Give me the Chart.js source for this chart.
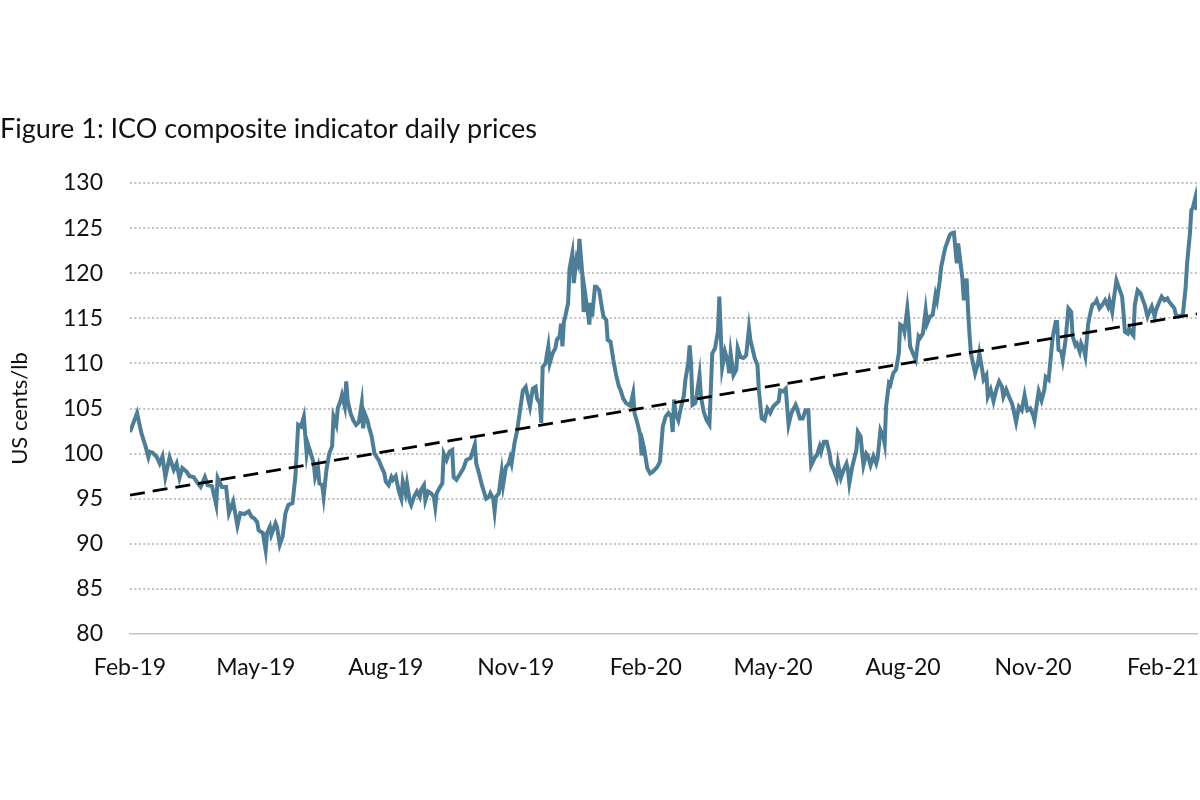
<!DOCTYPE html>
<html lang="en">
<head>
<meta charset="UTF-8">
<title>ICO composite indicator daily prices</title>
<script src="https://cdn.jsdelivr.net/npm/chart.js"></script>
<style>
  html, body { margin: 0; padding: 0; background: #fff; }
  canvas { display: block; }
</style>
</head>
<body>
<canvas id="icoChart" width="1200" height="800"></canvas>
<script>
// days since 1 Feb 2019 and the ICO composite price (US cents/lb)
var days = [
  0, 5, 8, 11, 13, 14, 16, 19, 21, 23,
  25, 28, 31, 33, 35, 37, 40, 42, 45, 48,
  50, 53, 55, 58, 61, 62, 65, 68, 70, 73,
  76, 78, 81, 84, 86, 88, 90, 91, 94, 96,
  97, 99, 100, 103, 104, 106, 108, 110, 112, 115,
  117, 119, 121, 123, 125, 126, 128, 130, 131, 133,
  134, 136, 137, 139, 141, 143, 144, 146, 147, 149,
  150, 152, 153, 154, 156, 158, 160, 162, 164, 165,
  166, 168, 169, 171, 173, 175, 176, 178, 180, 181,
  183, 185, 186, 188, 190, 192, 193, 195, 196, 198,
  199, 201, 203, 205, 206, 208, 209, 211, 213, 215,
  216, 217, 219, 221, 222, 224, 226, 228, 229, 231,
  233, 236, 238, 241, 242, 244, 245, 247, 249, 250,
  252, 254, 255, 257, 258, 259, 261, 263, 264, 266,
  268, 269, 270, 272, 274, 276, 278, 280, 282, 283,
  285, 287, 288, 290, 291, 292, 294, 296, 297, 299,
  301, 302, 304, 305, 306, 307, 308, 310, 311, 313,
  314, 316, 317, 318, 320, 321, 322, 324, 325, 326,
  327, 329, 330, 332, 334, 335, 337, 338, 340, 342,
  344, 346, 347, 349, 351, 354, 356, 357, 359, 361,
  362, 363, 364, 366, 368, 370, 373, 375, 377, 379,
  381, 383, 384, 385, 386, 388, 390, 392, 393, 395,
  396, 397, 398, 400, 401, 403, 404, 406, 408, 410,
  412, 414, 416, 417, 419, 421, 423, 424, 425, 427,
  429, 430, 432, 434, 436, 438, 439, 441, 442, 444,
  445, 447, 449, 451, 453, 455, 459, 460, 462, 464,
  466, 468, 471, 472, 474, 476, 478, 480, 481, 482,
  485, 486, 488, 489, 491, 493, 495, 496, 498, 500,
  501, 503, 505, 507, 508, 509, 511, 514, 515, 517,
  518, 519, 521, 522, 524, 526, 528, 529, 531, 533,
  534, 535, 537, 538, 540, 542, 544, 545, 547, 548,
  550, 551, 552, 554, 556, 558, 559, 561, 563, 564,
  566, 568, 570, 571, 573, 574, 576, 577, 578, 580,
  581, 583, 585, 586, 588, 589, 590, 592, 593, 594,
  595, 596, 598, 600, 601, 603, 604, 606, 607, 609,
  611, 613, 615, 617, 618, 620, 622, 624, 625, 627,
  629, 631, 633, 635, 637, 639, 640, 642, 643, 645,
  647, 648, 650, 651, 652, 653, 655, 656, 657, 659,
  660, 662, 664, 666, 667, 669, 670, 672, 673, 675,
  676, 678, 680, 681, 683, 684, 686, 688, 690, 692,
  693, 695, 696, 698, 700, 702, 703, 704, 706, 707,
  709, 710, 711, 713, 715, 717, 718, 720, 721, 723,
  725, 726, 728, 730, 732, 734, 735, 737, 739, 740,
  742, 745, 747, 748, 750, 751, 752, 754, 755
];
var prices = [
  102.4, 104.5, 102.3, 100.8, 99.6, 100.2, 100.1, 99.6, 98.9, 99.7,
  97.4, 99.6, 98.2, 98.9, 97.3, 98.4, 98.0, 97.5, 97.4, 96.7,
  96.3, 97.4, 96.5, 96.4, 94.3, 97.3, 96.3, 96.3, 93.4, 94.7,
  92.0, 93.4, 93.3, 93.6, 93.0, 92.8, 92.4, 91.5, 91.2, 89.3,
  91.2, 91.9, 91.0, 92.3, 91.9, 89.9, 90.8, 93.4, 94.3, 94.5,
  97.4, 103.2, 103.0, 104.1, 100.0, 101.0, 100.0, 98.9, 97.4, 98.5,
  96.7, 96.5, 95.2, 98.2, 100.0, 100.8, 104.1, 103.2, 105.0, 105.9,
  106.5, 105.2, 108.0, 105.9, 104.5, 103.7, 103.2, 103.5, 105.6, 102.8,
  104.5, 103.7, 103.0, 101.9, 100.0, 99.5, 99.3, 98.5, 97.8, 96.9,
  96.5, 97.4, 97.1, 97.5, 96.0, 95.0, 96.9, 95.6, 96.7, 94.7,
  94.3, 95.2, 95.8, 95.2, 96.0, 96.5, 94.8, 95.8, 95.6, 95.2,
  94.1, 95.6, 96.2, 96.7, 100.0, 99.3, 100.2, 100.4, 97.4, 97.1,
  97.6, 98.4, 99.3, 99.5, 100.0, 101.0, 98.9, 97.8, 96.5, 96.0,
  95.0, 95.2, 95.6, 95.0, 93.6, 95.2, 95.6, 98.0, 96.5, 98.5,
  98.9, 99.5, 98.9, 101.1, 102.6, 104.8, 107.0, 107.4, 105.9, 105.2,
  107.2, 107.4, 106.1, 105.6, 103.4, 109.6, 110.0, 111.9, 110.0, 111.1,
  111.7, 112.6, 113.0, 114.4, 111.9, 114.6, 115.2, 116.7, 120.5, 122.2,
  118.9, 121.6, 121.1, 123.8, 120.0, 115.7, 117.8, 115.6, 114.3, 116.7,
  115.2, 118.5, 118.5, 118.1, 116.1, 115.2, 114.8, 112.6, 112.4, 110.4,
  108.7, 107.4, 107.1, 106.1, 105.6, 105.3, 106.7, 104.5, 103.4, 102.1,
  99.8, 101.1, 100.4, 98.4, 97.8, 98.0, 98.5, 99.1, 103.0, 104.1,
  104.5, 104.1, 102.4, 106.0, 104.5, 103.7, 105.2, 106.5, 108.2, 110.0,
  112.0, 110.0, 105.4, 105.6, 106.5, 108.7, 106.3, 104.6, 103.7, 103.2,
  111.1, 111.7, 113.5, 117.4, 109.5, 111.3, 110.2, 108.9, 111.1, 108.7,
  109.3, 111.7, 110.7, 110.6, 110.9, 113.9, 112.6, 111.3, 110.6, 109.8,
  107.0, 103.9, 103.7, 105.0, 104.5, 105.2, 105.8, 107.0, 106.9, 107.2,
  103.2, 104.5, 105.4, 105.0, 103.9, 103.9, 104.8, 104.8, 101.5, 98.7,
  99.7, 99.8, 100.8, 100.2, 101.3, 101.3, 100.0, 98.9, 98.2, 97.3,
  98.9, 97.3, 98.2, 98.9, 98.2, 96.7, 98.5, 100.4, 102.4, 101.9,
  100.2, 98.7, 100.0, 99.8, 98.7, 99.7, 98.9, 99.5, 102.6, 101.9,
  101.1, 105.2, 107.8, 107.6, 108.9, 109.3, 111.1, 114.3, 114.1, 113.5,
  116.1, 114.4, 111.9, 111.1, 110.4, 113.0, 112.8, 113.3, 115.9, 114.4,
  115.2, 115.4, 117.6, 117.0, 119.2, 120.7, 122.2, 122.9, 123.3, 124.2,
  124.4, 124.5, 121.1, 123.3, 120.7, 119.4, 117.0, 119.4, 115.9, 113.3,
  111.1, 110.4, 108.9, 110.0, 111.1, 109.3, 108.2, 108.7, 106.3, 107.1,
  105.8, 107.1, 108.0, 107.4, 106.3, 107.1, 106.3, 105.6, 105.0, 103.5,
  105.2, 104.8, 106.5, 104.8, 105.0, 104.3, 103.7, 105.9, 106.9, 105.9,
  107.1, 108.5, 108.2, 109.8, 111.5, 113.0, 114.6, 114.6, 111.5, 111.3,
  110.4, 112.6, 116.1, 115.7, 113.0, 112.0, 112.2, 111.3, 112.2, 111.5,
  110.8, 114.4, 115.9, 116.5, 116.7, 117.0, 116.1, 116.5, 117.0, 116.3,
  117.0, 115.7, 117.0, 119.2, 118.3, 117.4, 115.6, 113.5, 113.3, 113.9,
  113.3, 113.1, 116.5, 118.1, 117.8, 116.9, 116.5, 115.2, 115.6, 116.3,
  115.2, 115.9, 116.7, 117.4, 117.0, 117.2, 116.9, 116.5, 116.1, 115.4,
  115.2, 115.4, 118.5, 121.1, 124.4, 127.0, 127.2, 128.5, 127.0
];

// linear trend drawn dashed across the whole period
var trendDays = [0, 755];
var trendValues = [95.4, 115.5];

// quarterly axis labels
var startDate = '2019-02-01';
var tickDates = ['2019-02-01', '2019-05-01', '2019-08-01', '2019-11-01', '2020-02-01',
                 '2020-05-01', '2020-08-01', '2020-11-01', '2021-02-01'];
var tickLabels = ['Feb-19', 'May-19', 'Aug-19', 'Nov-19', 'Feb-20',
                  'May-20', 'Aug-20', 'Nov-20', 'Feb-21'];

var dayOf = function (iso) {
  return Math.round((Date.parse(iso) - Date.parse(startDate)) / 86400000);
};
var tickDays = tickDates.map(dayOf);

var FONT = 'Lato, "Noto Sans", sans-serif';

var ctx = document.getElementById('icoChart').getContext('2d');
var chart = new Chart(ctx, {
  type: 'line',
  data: {
    datasets: [{
      label: 'ICO composite indicator',
      data: days.map(function (d, i) { return { x: d, y: prices[i] }; }),
      borderColor: '#4e7e96',
      borderWidth: 4,
      pointRadius: 0,
      tension: 0,
      fill: false,
      order: 2
    }, {
      label: 'Trend',
      data: trendDays.map(function (d, i) { return { x: d, y: trendValues[i] }; }),
      borderColor: '#000000',
      borderWidth: 2.8,
      borderDash: [15, 8],
      pointRadius: 0,
      fill: false,
      order: 1
    }]
  },
  options: {
    responsive: false,
    animation: false,
    devicePixelRatio: 1,
    layout: { padding: { top: 100, left: 0, right: 3, bottom: 120 } },
    plugins: {
      legend: { display: false },
      tooltip: { enabled: false },
      title: {
        display: true,
        text: 'Figure 1: ICO composite indicator daily prices',
        align: 'start',
        color: '#111',
        font: { family: FONT, size: 27, weight: 'normal' },
        padding: { top: 13, bottom: 37.6 }
      }
    },
    scales: {
      x: {
        type: 'linear',
        min: 0,
        max: 755,
        grid: { display: false, drawTicks: false },
        border: { display: true, color: '#c4c4c4', width: 1.5 },
        afterBuildTicks: function (scale) {
          scale.ticks = tickDays.map(function (v) { return { value: v }; });
        },
        afterFit: function (scale) {
          // keep the plot running to the right edge like the original
          scale.height = 46;
          scale.paddingLeft = 0;
          scale.paddingRight = 0;
        },
        ticks: {
          autoSkip: false,
          maxRotation: 0,
          padding: 20,
          color: '#111',
          font: { family: FONT, size: 23 },
          callback: function (value) {
            var i = tickDays.indexOf(value);
            return i >= 0 ? tickLabels[i] : '';
          }
        }
      },
      y: {
        min: 80,
        max: 130,
        afterFit: function (scale) { scale.width = 130; },
        grid: {
          drawTicks: false,
          lineWidth: 2,
          color: function (c) {
            return c.tick && c.tick.value === 80 ? 'rgba(0,0,0,0)' : '#c2c2c2';
          }
        },
        border: { display: false, dash: [2, 2.4] },
        ticks: {
          stepSize: 5,
          padding: 27,
          color: '#111',
          font: { family: FONT, size: 23 }
        },
        title: {
          display: true,
          text: 'US cents/lb',
          color: '#111',
          font: { family: FONT, size: 22 },
          padding: { top: 7, bottom: 0 }
        }
      }
    }
  }
});
</script>
</body>
</html>
